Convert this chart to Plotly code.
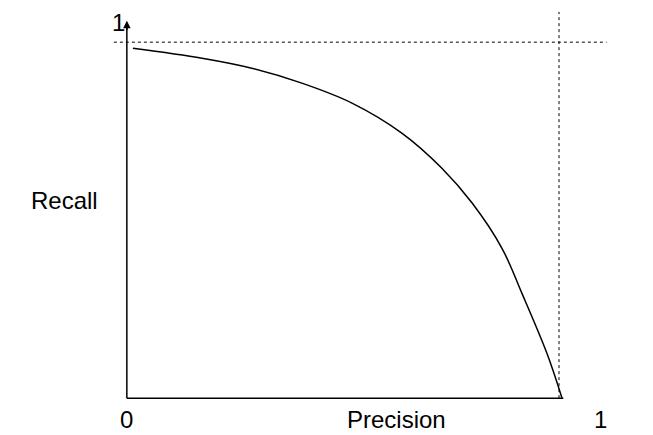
import plotly.graph_objects as go

prec = [0.014, 0.174, 0.289, 0.405, 0.521, 0.637, 0.729, 0.799, 0.868, 0.914, 0.972, 1.007]
rec = [0.983, 0.955, 0.927, 0.885, 0.829, 0.744, 0.646, 0.548, 0.421, 0.295, 0.126, 0.0]

fig = go.Figure()
fig.add_trace(go.Scatter(x=prec, y=rec, mode="lines", line=dict(color="black", width=1.5, shape="spline", smoothing=1.0), showlegend=False))
fig.add_shape(type="line", x0=0, y0=0, x1=1.01, y1=0, line=dict(color="black", width=1.5))
fig.add_shape(type="line", x0=0, y0=0, x1=0, y1=1.05, line=dict(color="black", width=1.5))
fig.add_annotation(x=0, y=1.06, ax=0, ay=1.03, xref="x", yref="y", axref="x", ayref="y", showarrow=True, arrowhead=2, arrowsize=1, arrowwidth=1.5, arrowcolor="black", text="")
fig.add_shape(type="line", x0=-0.03, y0=1, x1=1.11, y1=1, line=dict(color="black", width=1, dash="dot"))
fig.add_shape(type="line", x0=1, y0=0, x1=1, y1=1.085, line=dict(color="black", width=1, dash="dot"))
f = dict(family="Liberation Sans, Arial", size=24, color="black")
for x, y, t in [(0, -0.06, "0"), (1.095, -0.06, "1"), (-0.02, 1.055, "1"), (-0.145, 0.555, "Recall"), (0.625, -0.06, "Precision")]:
    fig.add_annotation(x=x, y=y, text=t, showarrow=False, font=f)
fig.update_xaxes(range=[-0.275, 1.236], visible=False)
fig.update_yaxes(range=[-0.126, 1.096], visible=False)
fig.update_layout(width=653, height=435, margin=dict(l=0, r=0, t=0, b=0), plot_bgcolor="white", paper_bgcolor="white")
fig.write_html("out.html")
